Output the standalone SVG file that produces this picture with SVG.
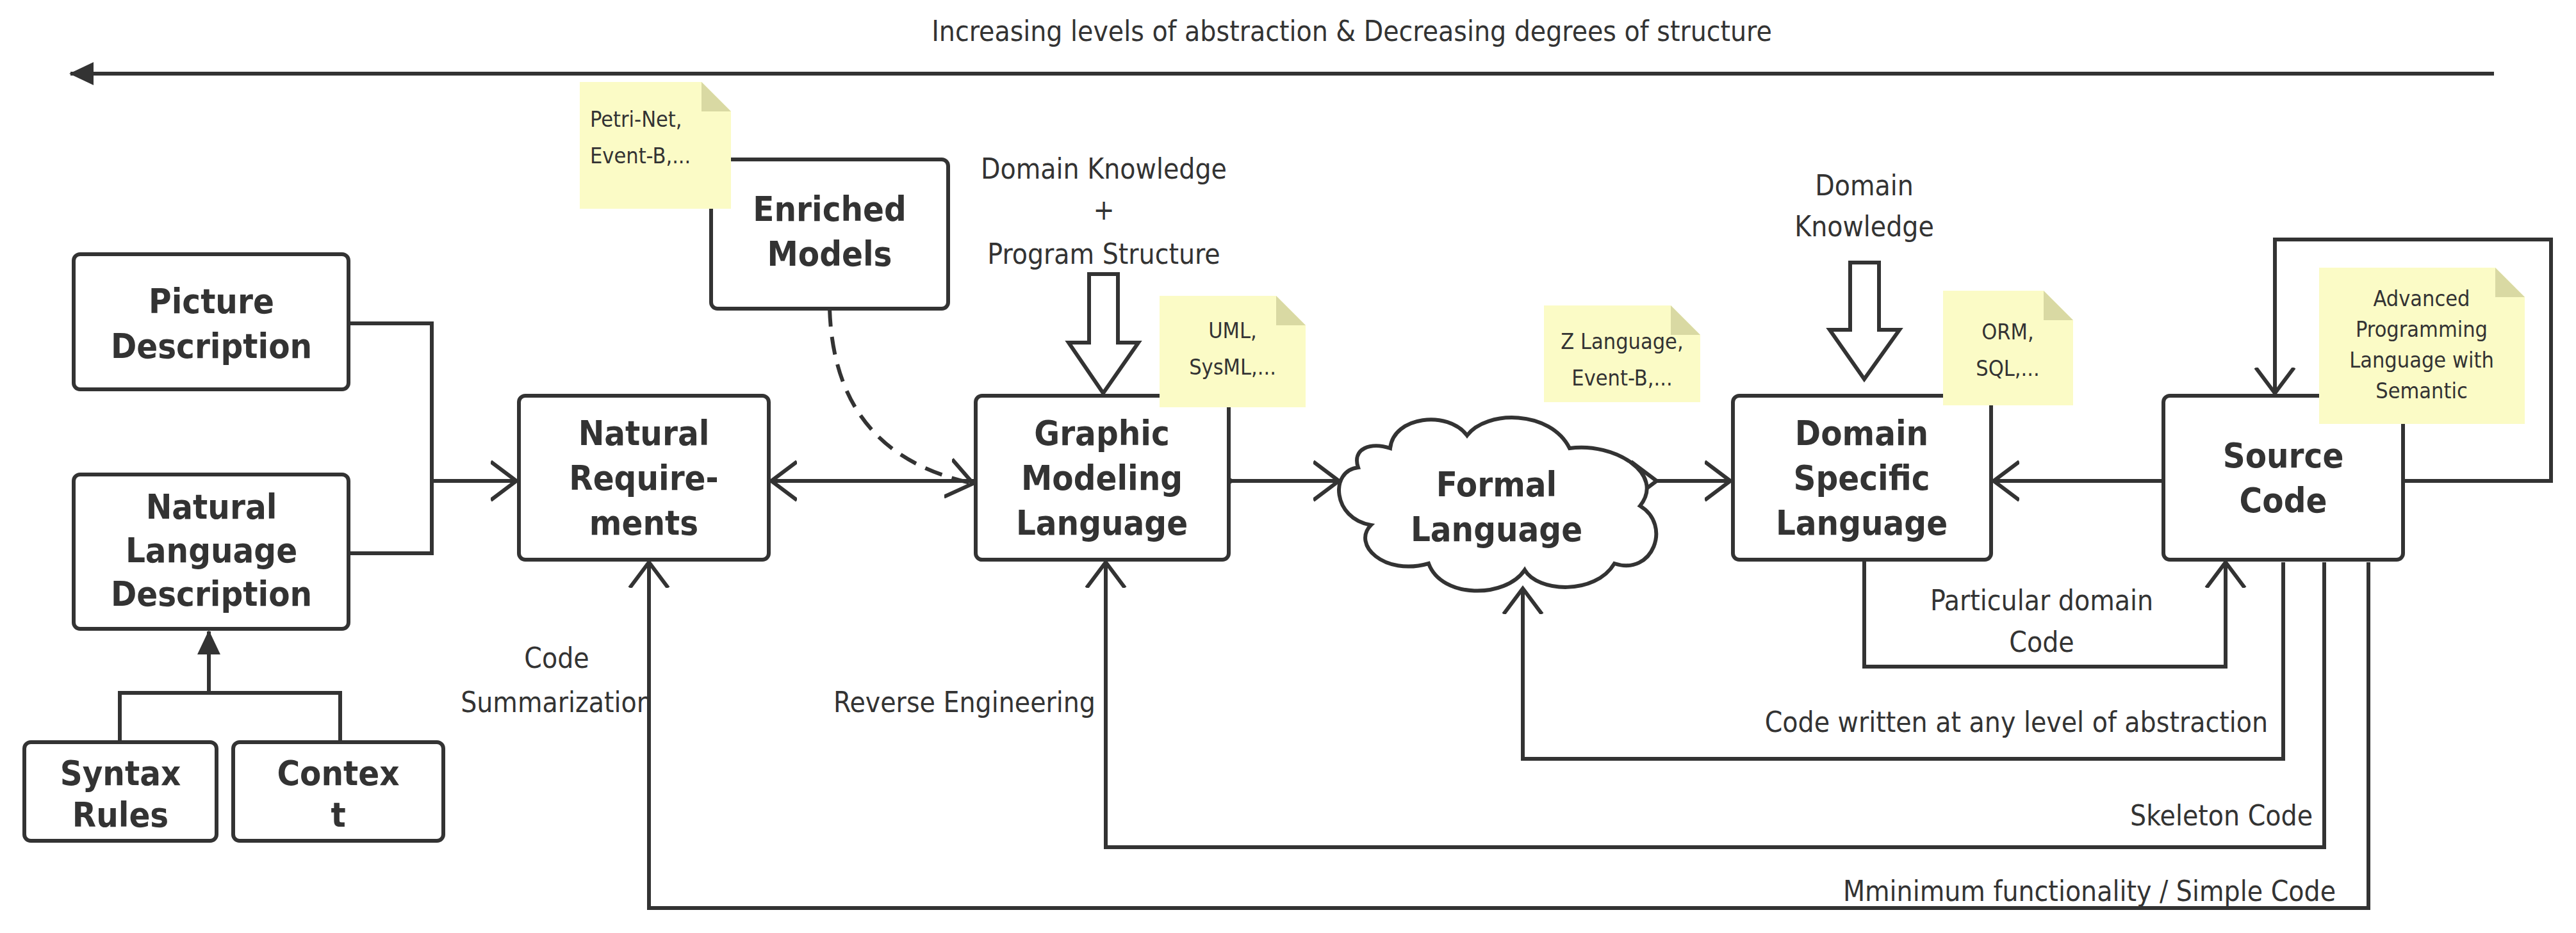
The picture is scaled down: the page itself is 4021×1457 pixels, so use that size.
<svg xmlns="http://www.w3.org/2000/svg" width="4021" height="1457" viewBox="0 0 4021 1457">
<style>
.box{fill:#fff;stroke:#333;stroke-width:6}
.t{font-family:"DejaVu Sans Condensed","DejaVu Sans",sans-serif;font-stretch:condensed;fill:#333;text-anchor:middle}
.b{font-weight:bold;font-size:54px}
.l{font-size:44px}
.n{font-size:34px}
.ln{fill:none;stroke:#333;stroke-width:6}
.note{fill:#fbfbc6}
.fold{fill:#d9d9a3}
</style>
<defs>
<marker id="oa" markerUnits="userSpaceOnUse" markerWidth="50" markerHeight="70" refX="40" refY="30" orient="auto" viewBox="0 0 50 60">
<path d="M0,0 L40,30 L0,60" fill="none" stroke="#333" stroke-width="6"/>
</marker>
<marker id="fa" markerUnits="userSpaceOnUse" markerWidth="40" markerHeight="40" refX="36" refY="18" orient="auto" viewBox="0 0 40 36">
<path d="M0,0 L38,18 L0,36 Z" fill="#333"/>
</marker>
</defs>
<g id="top">
<text class="t l" x="2110" y="64">Increasing levels of abstraction &amp; Decreasing degrees of structure</text>
<line class="ln" x1="3893" y1="115" x2="110" y2="115" marker-end="url(#fa)"/>
</g>
<g id="connectors">
<polyline class="ln" points="544,505 674,505 674,864 544,864"/>
<line class="ln" x1="674" y1="751" x2="806" y2="751" marker-end="url(#oa)"/>
<polyline class="ln" points="187,1159 187,1082 531,1082 531,1159"/>
<line class="ln" x1="326" y1="1082" x2="326" y2="986" marker-end="url(#fa)"/>
<line class="ln" x1="1523" y1="751" x2="1204" y2="751" marker-end="url(#oa)"/>
<path class="ln" d="M1295,482 C1300,640 1380,725 1519,755" stroke-dasharray="28,16" marker-end="url(#oa)"/>
<line class="ln" x1="1922" y1="751" x2="2090" y2="751" marker-start="url(#oa)" marker-end="url(#oa)"/>
<line class="ln" x1="2586" y1="751" x2="2701" y2="751" marker-start="url(#oa)" marker-end="url(#oa)"/>
<line class="ln" x1="3377" y1="751" x2="3112" y2="751" marker-end="url(#oa)"/>
<polyline class="ln" points="3751,751 3982,751 3982,374 3551,374 3551,614" marker-end="url(#oa)"/>
<polyline class="ln" points="2910,874 2910,1041 3474,1041 3474,878" marker-end="url(#oa)"/>
<polyline class="ln" points="3564,878 3564,1185 2377,1185 2377,919" marker-end="url(#oa)"/>
<polyline class="ln" points="3628,878 3628,1323 1726,1323 1726,878" marker-end="url(#oa)"/>
<polyline class="ln" points="3697,878 3697,1418 1013,1418 1013,878" marker-end="url(#oa)"/>
<path d="M1700,428 L1745,428 L1745,535 L1777,535 L1722,614 L1668,535 L1700,535 Z" fill="#fff" stroke="#333" stroke-width="6"/>
<path d="M2888,410 L2933,410 L2933,515 L2965,515 L2910,592 L2856,515 L2888,515 Z" fill="#fff" stroke="#333" stroke-width="6"/>
</g>
<g id="labels">
<text class="t l" x="1723" y="279">Domain Knowledge</text>
<text class="t l" x="1723" y="343">+</text>
<text class="t l" x="1723" y="412">Program Structure</text>
<text class="t l" x="2910" y="305">Domain</text>
<text class="t l" x="2910" y="369">Knowledge</text>
<text class="t l" x="3187" y="953">Particular domain</text>
<text class="t l" x="3187" y="1018">Code</text>
<text class="t l" x="3540" y="1143" style="text-anchor:end">Code written at any level of abstraction</text>
<text class="t l" x="3610" y="1289" style="text-anchor:end">Skeleton Code</text>
<text class="t l" x="3646" y="1407" style="text-anchor:end">Mminimum functionality / Simple Code</text>
<text class="t l" x="869" y="1043">Code</text>
<text class="t l" x="869" y="1112">Summarization</text>
<text class="t l" x="1710" y="1112" style="text-anchor:end">Reverse Engineering</text>
</g>
<g id="picture">
<rect class="box" x="115" y="397" width="429" height="211" rx="10"/>
<text class="t b" x="330" y="489">Picture</text>
<text class="t b" x="330" y="559">Description</text>
</g>
<g id="nld">
<rect class="box" x="115" y="741" width="429" height="241" rx="10"/>
<text class="t b" x="330" y="810">Natural</text>
<text class="t b" x="330" y="878">Language</text>
<text class="t b" x="330" y="946">Description</text>
</g>
<g id="syntax">
<rect class="box" x="38" y="1159" width="300" height="154" rx="10"/>
<text class="t b" x="188" y="1226">Syntax</text>
<text class="t b" x="188" y="1291">Rules</text>
</g>
<g id="context">
<rect class="box" x="364" y="1159" width="328" height="154" rx="10"/>
<text class="t b" x="528" y="1226">Contex</text>
<text class="t b" x="528" y="1291">t</text>
</g>
<g id="nr">
<rect class="box" x="810" y="618" width="390" height="256" rx="10"/>
<text class="t b" x="1005" y="695">Natural</text>
<text class="t b" x="1005" y="765">Require-</text>
<text class="t b" x="1005" y="835">ments</text>
</g>
<g id="enriched">
<rect class="box" x="1110" y="249" width="370" height="233" rx="10"/>
<text class="t b" x="1295" y="345">Enriched</text>
<text class="t b" x="1295" y="415">Models</text>
</g>
<g id="note-petri">
<path class="note" d="M905,128 L1095,128 L1141,174 L1141,326 L905,326 Z"/>
<path class="fold" d="M1095,128 L1141,174 L1095,174 Z"/>
<text class="t n" x="921" y="198" style="text-anchor:start">Petri-Net,</text>
<text class="t n" x="921" y="255" style="text-anchor:start">Event-B,...</text>
</g>
<g id="gml">
<rect class="box" x="1523" y="618" width="395" height="256" rx="10"/>
<text class="t b" x="1720" y="695">Graphic</text>
<text class="t b" x="1720" y="765">Modeling</text>
<text class="t b" x="1720" y="835">Language</text>
</g>
<g id="note-uml">
<path class="note" d="M1810,462 L1992,462 L2038,508 L2038,636 L1810,636 Z"/>
<path class="fold" d="M1992,462 L2038,508 L1992,508 Z"/>
<text class="t n" x="1924" y="528">UML,</text>
<text class="t n" x="1924" y="585">SysML,...</text>
</g>
<g id="formal">
<path class="box" d="M2170,700 C2175,650 2260,640 2290,680 C2320,640 2420,640 2450,700 C2520,690 2600,740 2560,790 C2610,820 2580,900 2520,880 C2490,930 2400,925 2380,890 C2350,935 2250,935 2230,880 C2160,900 2110,850 2140,820 C2080,810 2075,735 2120,730 C2110,700 2140,690 2170,700 Z"/>
<text class="t b" x="2336" y="775">Formal</text>
<text class="t b" x="2336" y="845">Language</text>
</g>
<g id="note-z">
<path class="note" d="M2410,477 L2608,477 L2654,523 L2654,628 L2410,628 Z"/>
<path class="fold" d="M2608,477 L2654,523 L2608,523 Z"/>
<text class="t n" x="2532" y="545">Z Language,</text>
<text class="t n" x="2532" y="602">Event-B,...</text>
</g>
<g id="dsl">
<rect class="box" x="2705" y="618" width="403" height="256" rx="10"/>
<text class="t b" x="2906" y="695">Domain</text>
<text class="t b" x="2906" y="765">Specific</text>
<text class="t b" x="2906" y="835">Language</text>
</g>
<g id="note-orm">
<path class="note" d="M3033,454 L3190,454 L3236,500 L3236,633 L3033,633 Z"/>
<path class="fold" d="M3190,454 L3236,500 L3190,500 Z"/>
<text class="t n" x="3134" y="530">ORM,</text>
<text class="t n" x="3134" y="587">SQL,...</text>
</g>
<g id="source">
<rect class="box" x="3377" y="618" width="374" height="256" rx="10"/>
<text class="t b" x="3564" y="730">Source</text>
<text class="t b" x="3564" y="800">Code</text>
</g>
<g id="note-adv">
<path class="note" d="M3620,418 L3895,418 L3941,464 L3941,662 L3620,662 Z"/>
<path class="fold" d="M3895,418 L3941,464 L3895,464 Z"/>
<text class="t n" x="3780" y="478">Advanced</text>
<text class="t n" x="3780" y="526">Programming</text>
<text class="t n" x="3780" y="574">Language with</text>
<text class="t n" x="3780" y="622">Semantic</text>
</g>
</svg>
